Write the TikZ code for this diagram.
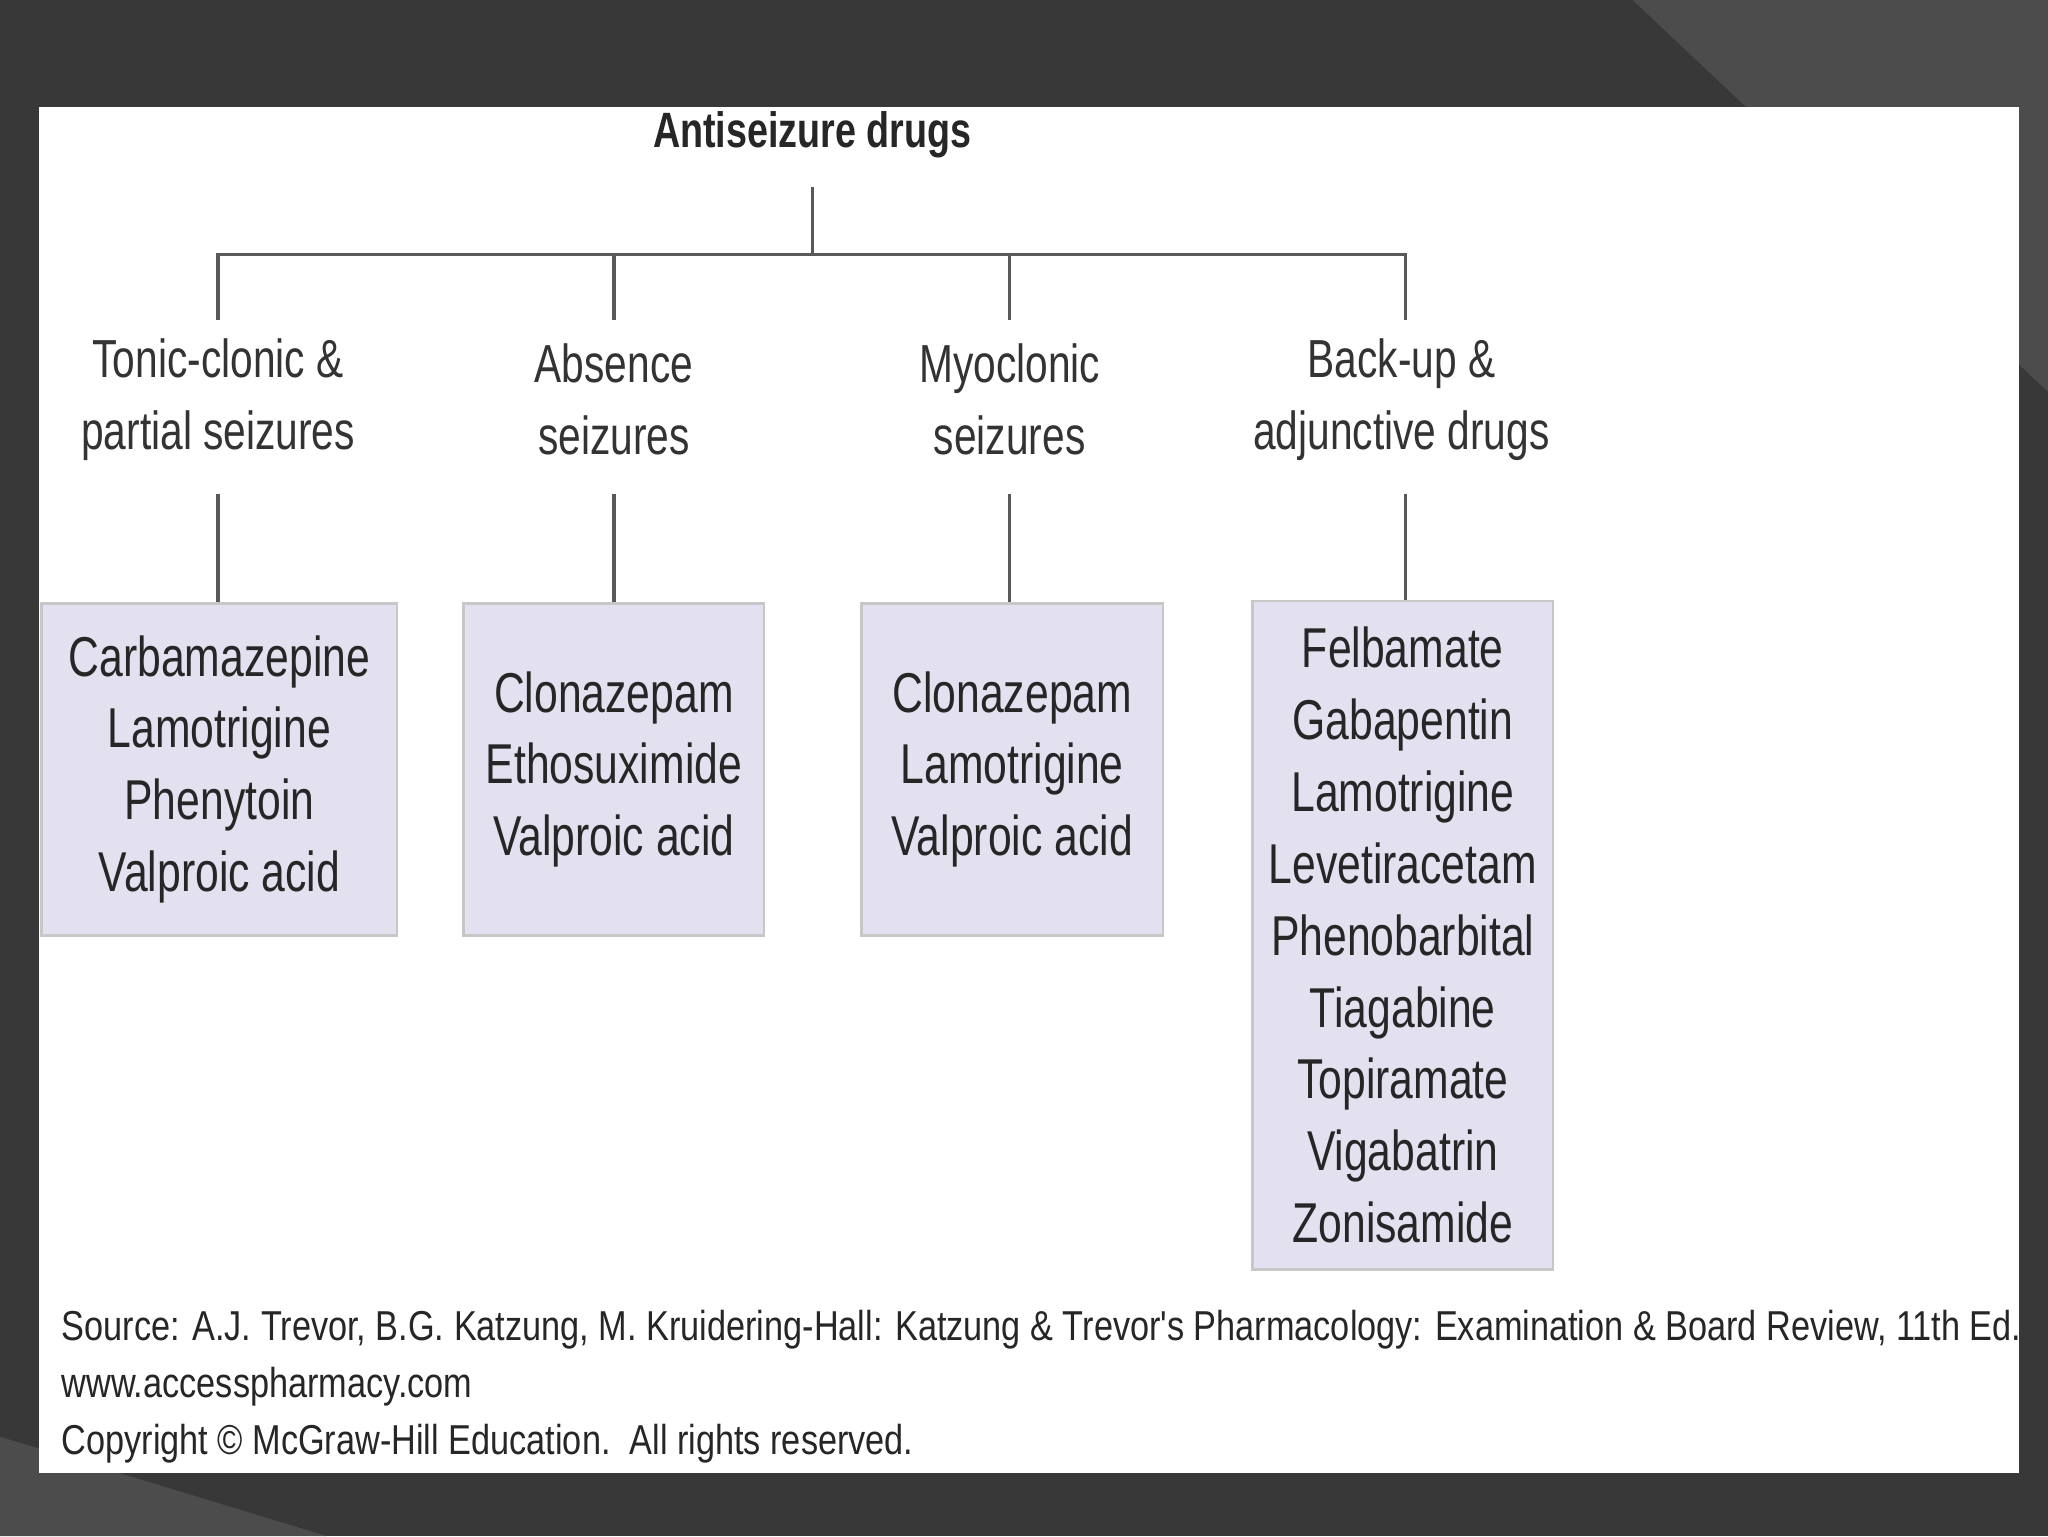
\documentclass[tikz,border=0pt]{standalone}
\usepackage{fontspec}
\setmainfont[FakeStretch=0.76]{Liberation Sans}
\newfontfamily\srcfont[FakeStretch=0.82]{Liberation Sans}
\definecolor{boxfill}{HTML}{E3E1EF}
\begin{document}
\begin{tikzpicture}[x=1pt,y=-1pt,
  hd/.style={align=center,font=\fontsize{41}{55}\selectfont,text=black!80},
  drug/.style={draw=black!22,line width=2pt,fill=boxfill,align=center,font=\fontsize{43}{55}\selectfont,text=black!85,inner sep=0pt},
  ln/.style={draw=black!65,line width=2.5pt},
  src/.style={anchor=west,font=\srcfont\fontsize{32}{36}\selectfont,text=black!85,inner sep=0pt}]
\fill[black!78] (0,0) rectangle (1568,1176);
\fill[black!70] (1250,0) -- (1568,0) -- (1568,300) -- cycle;
\fill[black!70] (0,1100) -- (250,1176) -- (0,1176) -- cycle;
\fill[white] (30,82) rectangle (1546,1128);
\node[font=\bfseries\fontsize{38}{40}\selectfont,text=black!85] (t) at (622,103) {Antiseizure drugs};
\coordinate (tj) at (622,195);
\draw[ln] (622,143) -- (tj);
\draw[ln] (167,245) -- (167,195) -- (1076,195) -- (1076,245);
\draw[ln] (470,195) -- (470,245);
\draw[ln] (773,195) -- (773,245);
\node[hd] (h1) at (167,306) {Tonic-clonic \&\\partial seizures};
\node[hd] (h2) at (470,306) {Absence\\seizures};
\node[hd] (h3) at (773,306) {Myoclonic\\seizures};
\node[hd] (h4) at (1073,306) {Back-up \&\\adjunctive drugs};
\node[drug,minimum width=272,minimum height=254] (b1) at (168,589) {Carbamazepine\\Lamotrigine\\Phenytoin\\Valproic acid};
\node[drug,minimum width=230,minimum height=254] (b2) at (470,589) {Clonazepam\\Ethosuximide\\Valproic acid};
\node[drug,minimum width=231,minimum height=254] (b3) at (775,589) {Clonazepam\\Lamotrigine\\Valproic acid};
\node[drug,minimum width=230,minimum height=512] (b4) at (1074,716) {Felbamate\\Gabapentin\\Lamotrigine\\Levetiracetam\\Phenobarbital\\Tiagabine\\Topiramate\\Vigabatrin\\Zonisamide};
\draw[ln] (167,378) -- (b1.north -| 167,0);
\draw[ln] (470,378) -- (b2.north -| 470,0);
\draw[ln] (773,378) -- (b3.north -| 773,0);
\draw[ln] (1076,378) -- (b4.north -| 1076,0);
\node[src] (s1) at (47,1018) {Source: A.J. Trevor, B.G. Katzung, M. Kruidering-Hall: Katzung \& Trevor's Pharmacology: Examination \& Board Review, 11th Ed.};
\node[src] (s2) at (47,1062) {www.accesspharmacy.com};
\node[src] (s3) at (47,1105) {Copyright © McGraw-Hill Education.\ \ All rights reserved.};
\end{tikzpicture}
\end{document}
